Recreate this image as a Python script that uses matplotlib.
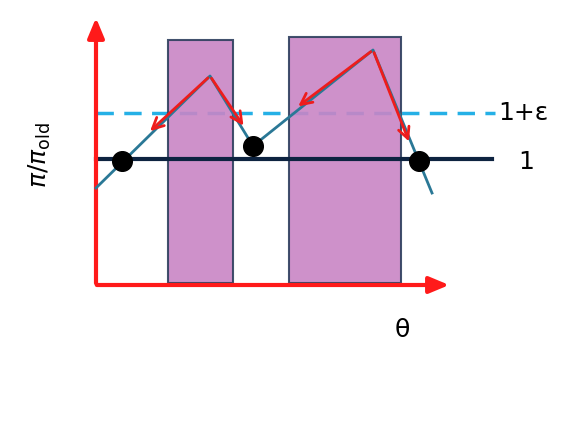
import matplotlib
matplotlib.use("Agg")
import matplotlib.pyplot as plt
from matplotlib.patches import Rectangle

rects = [(168, 40, 233, 283), (289, 37, 401, 283)]
curve_x = [96, 210, 253, 373, 432]
curve_y = [188, 76, 146, 50, 193]
dots_x = [122, 253, 419]
dots_y = [161, 146, 161]
arrows = [((210, 76), (148, 133)), ((210, 76), (245, 128)),
          ((373, 50), (296, 108)), ((373, 50), (410, 144))]
eps_y, one_y = 113, 159

fig = plt.figure(figsize=(5.77, 4.21), dpi=100)
ax = fig.add_axes([0, 0, 1, 1])
ax.set_xlim(0, 577); ax.set_ylim(421, 0); ax.axis("off")

ax.plot([96, 495], [eps_y, eps_y], ls=(0, (5, 3)), color="#25b0e6", lw=2.5, zorder=1)
for x0, y0, x1, y1 in rects:
    ax.add_patch(Rectangle((x0, y0), x1 - x0, y1 - y0, facecolor="#c985c5", alpha=0.9,
                           edgecolor="#2d3f5e", lw=1.5, zorder=2))
ax.plot([96, 492], [one_y, one_y], color="#0d2340", lw=3, zorder=3)
ax.plot(curve_x, curve_y, color="#2a7896", lw=2, zorder=4)
ax.scatter(dots_x, dots_y, s=200, color="black", zorder=6)
for (a, b) in arrows:
    ax.annotate("", xy=b, xytext=a, arrowprops=dict(arrowstyle="->,head_length=0.8,head_width=0.4",
                color="#ee1c1c", lw=2), zorder=5)
ax.annotate("", xy=(96, 15), xytext=(96, 286), arrowprops=dict(arrowstyle="-|>,head_length=1.2,head_width=0.5", color="#ff1a1a", lw=3))
ax.annotate("", xy=(452, 285), xytext=(94, 285), arrowprops=dict(arrowstyle="-|>,head_length=1.2,head_width=0.5", color="#ff1a1a", lw=3))

ax.text(498, eps_y, "1+ε", fontsize=18, va="center", ha="left")
ax.text(518, 162, "1", fontsize=18, va="center", ha="left")
ax.text(402, 330, "θ", fontsize=18, va="center", ha="center")
ax.text(40, 155, r"$\pi/\pi_{\rm old}$", fontsize=18, va="center", ha="center", rotation=90)
fig.savefig("out.png", dpi=100)
